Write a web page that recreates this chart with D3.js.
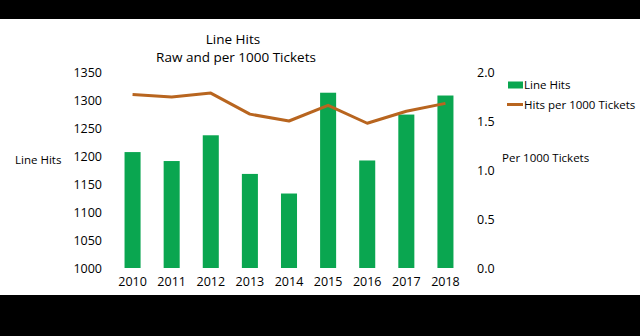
<!DOCTYPE html>
<html><head><meta charset="utf-8">
<script src="https://cdn.jsdelivr.net/npm/d3@7/dist/d3.min.js"></script>
<style>body{margin:0;background:#000;}svg{display:block;}text{font-family:"Open Sans",sans-serif;fill:#000;}</style>
</head><body>
<svg id="c" width="640" height="336"></svg>
<script>
const years = ["2010","2011","2012","2013","2014","2015","2016","2017","2018"];
const lineHits = [1207,1191,1237,1168,1133,1313,1192,1274,1308];
const hitsPer1000 = [1.77,1.745,1.785,1.57,1.50,1.66,1.477,1.60,1.68];
const leftTicks = [1000,1050,1100,1150,1200,1250,1300,1350];
const rightTicks = [0,0.5,1.0,1.5,2.0];

const svg = d3.select("#c");
svg.append("rect").attr("x",0).attr("y",0).attr("width",640).attr("height",336).attr("fill","#000");
svg.append("rect").attr("x",0).attr("y",19).attr("width",640).attr("height",276).attr("fill","#fff");

const x = d3.scaleBand().domain(years).range([113,465]).paddingInner(0.59).paddingOuter(0.295);
const yL = d3.scaleLinear().domain([1000,1350]).range([268,72]);
const yR = d3.scaleLinear().domain([0,2]).range([268,72]);
const green = "#0aa650", brown = "#b8651f";
const fs = "12.5px";

svg.append("g").selectAll("rect").data(years).join("rect")
  .attr("x",d=>x(d)).attr("width",x.bandwidth())
  .attr("y",(d,i)=>yL(lineHits[i])).attr("height",(d,i)=>yL(1000)-yL(lineHits[i]))
  .attr("fill",green);

const line = d3.line().x((d,i)=>x(years[i])+x.bandwidth()/2).y(d=>yR(d));
svg.append("path").datum(hitsPer1000).attr("d",line).attr("fill","none")
  .attr("stroke",brown).attr("stroke-width",3).attr("stroke-linejoin","round");

const axL = d3.axisLeft(yL).tickValues(leftTicks).tickFormat(d3.format("d")).tickSize(0).tickPadding(0);
const gL = svg.append("g").attr("transform","translate(102,0)").call(axL);
gL.select(".domain").remove();
gL.selectAll("text").style("font-size",fs).style("font-family","'Open Sans',sans-serif").attr("fill","#222");

const axR = d3.axisRight(yR).tickValues(rightTicks).tickFormat(d3.format(".1f")).tickSize(0).tickPadding(0);
const gR = svg.append("g").attr("transform","translate(477,0)").call(axR);
gR.select(".domain").remove();
gR.selectAll("text").style("font-size",fs).style("font-family","'Open Sans',sans-serif").attr("fill","#222");

const axX = d3.axisBottom(x).tickSize(0).tickPadding(0);
const gX = svg.append("g").attr("transform","translate(0,277)").call(axX);
gX.select(".domain").remove();
gX.selectAll("text").style("font-size",fs).style("font-family","'Open Sans',sans-serif").attr("fill","#222");

svg.append("text").attr("x",233).attr("y",44).attr("text-anchor","middle").style("font-size","13.5px").text("Line Hits");
svg.append("text").attr("x",236).attr("y",62).attr("text-anchor","middle").style("font-size","13.5px").text("Raw and per 1000 Tickets");

svg.append("text").attr("x",15).attr("y",164).style("font-size","11.5px").text("Line Hits");
svg.append("text").attr("x",502).attr("y",162).style("font-size","11.5px").text("Per 1000 Tickets");

const lg = svg.append("g");
lg.append("rect").attr("x",508).attr("y",81.5).attr("width",15).attr("height",7).attr("fill",green);
lg.append("text").attr("x",524).attr("y",89).style("font-size","11.5px").text("Line Hits");
lg.append("line").attr("x1",507).attr("x2",523).attr("y1",104.5).attr("y2",104.5).attr("stroke",brown).attr("stroke-width",3);
lg.append("text").attr("x",524).attr("y",109).style("font-size","11.5px").text("Hits per 1000 Tickets");
</script>
</body></html>
